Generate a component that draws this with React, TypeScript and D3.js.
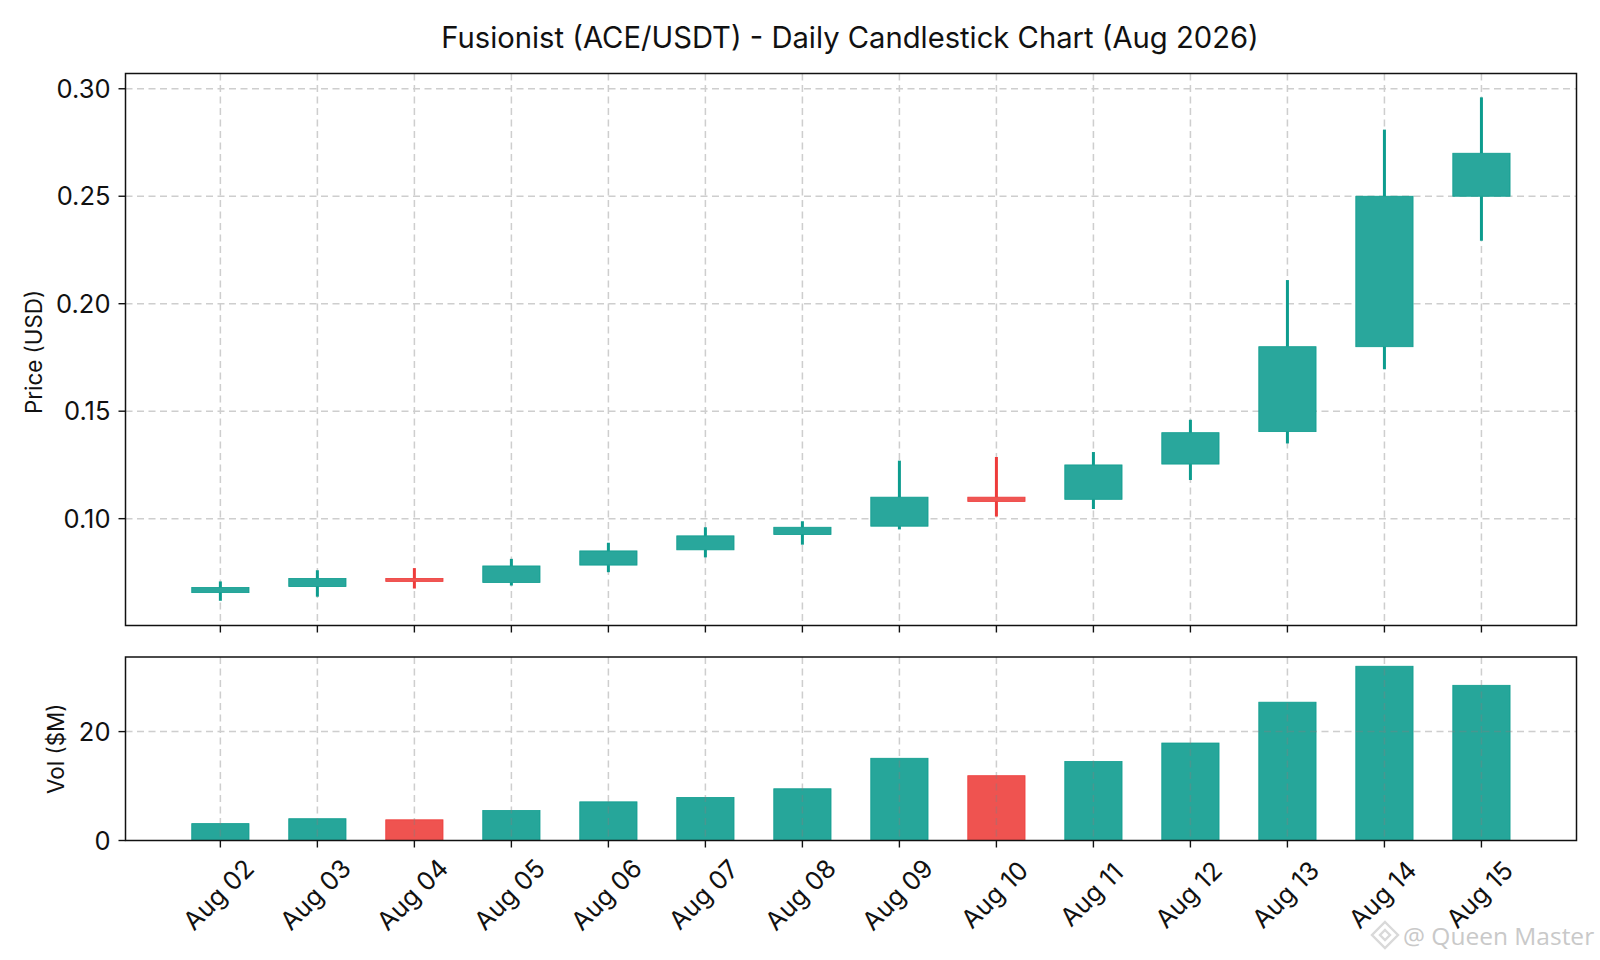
import React from "react";
import * as d3 from "d3";

const days = ["Aug 02","Aug 03","Aug 04","Aug 05","Aug 06","Aug 07","Aug 08","Aug 09","Aug 10","Aug 11","Aug 12","Aug 13","Aug 14","Aug 15"];
const opens = [0.0656,0.0684,0.0722,0.0703,0.0784,0.0855,0.0926,0.0965,0.1100,0.1090,0.1254,0.1405,0.1800,0.2500];
const closes = [0.0680,0.0722,0.0708,0.0780,0.0850,0.0920,0.0960,0.1100,0.1080,0.1250,0.1400,0.1800,0.2500,0.2700];
const highs = [0.0708,0.0760,0.0770,0.0813,0.0888,0.0960,0.0988,0.1270,0.1287,0.1310,0.1460,0.2110,0.2810,0.2960];
const lows = [0.0618,0.0637,0.0675,0.0689,0.0751,0.0820,0.0879,0.0950,0.1010,0.1045,0.1180,0.1350,0.1695,0.2293];
const volumes = [3.1,4.0,3.8,5.5,7.1,7.9,9.5,15.1,11.9,14.5,17.9,25.4,32.0,28.5];
const priceTicks = [0.10,0.15,0.20,0.25,0.30];
const volTicks = [0,20];

const UP = "#26a69a", UP_EDGE = "#0d9c8e", DOWN = "#ef5350", DOWN_EDGE = "#ee3b3a";
const FONT = "Inter, Roboto, sans-serif";
const L = 125.5, R = 1576.5;
const P = { t: 73.5, b: 625.5 }, V = { t: 657, b: 840.5 };

const x = d3.scaleLinear().domain([-0.978, 13.98]).range([L, R]);
const yP = d3.scaleLinear().domain([0.0503, 0.3071]).range([P.b, P.t]);
const yV = d3.scaleLinear().domain([0, 33.7]).range([V.b, V.t]);
const bw = x(0.59) - x(0);

function Grid({ panel, ticks, y }: any) {
  return (
    <g stroke="#808080" strokeWidth={1.5} strokeDasharray="7 4.5" opacity={0.38}>
      {days.map((_, i) => <line key={i} x1={x(i)} x2={x(i)} y1={panel.t} y2={panel.b} />)}
      {ticks.map((t: number) => <line key={t} x1={L} x2={R} y1={y(t)} y2={y(t)} />)}
    </g>
  );
}

function YAxis({ ticks, y, fmt }: any) {
  return (
    <g>
      {ticks.map((t: number) => (
        <g key={t}>
          <line x1={L - 7} x2={L} y1={y(t)} y2={y(t)} stroke="#111" strokeWidth={1.4} />
          <text x={L - 15} y={y(t)} dy="0.36em" textAnchor="end" fontSize={25.5} fill="#111">{fmt(t)}</text>
        </g>
      ))}
    </g>
  );
}

function XTicks({ y0 }: { y0: number }) {
  return <g>{days.map((_, i) => <line key={i} x1={x(i)} x2={x(i)} y1={y0} y2={y0 + 7} stroke="#111" strokeWidth={1.4} />)}</g>;
}

export default function App() {
  const f2 = d3.format(".2f");
  return (
    <svg width={1600} height={960} style={{ position: "absolute", left: 0, top: 0, background: "#fff" }} fontFamily={FONT}>
      <text x={850} y={37} dy="0.36em" textAnchor="middle" fontSize={29.2} fill="#111">Fusionist (ACE/USDT) - Daily Candlestick Chart (Aug 2026)</text>

      {/* price panel */}
      <Grid panel={P} ticks={priceTicks} y={yP} />
      {days.map((_, i) => {
        const up = closes[i] >= opens[i];
        const yOpen = yP(opens[i]), yClose = yP(closes[i]);
        const top = Math.min(yOpen, yClose), bottom = Math.max(yOpen, yClose);
        const edge = up ? UP_EDGE : DOWN_EDGE;
        return (
          <g key={i}>
            <line x1={x(i)} x2={x(i)} y1={yP(highs[i])} y2={top} stroke={edge} strokeWidth={3} />
            <line x1={x(i)} x2={x(i)} y1={bottom} y2={yP(lows[i])} stroke={edge} strokeWidth={3} />
            <rect x={x(i) - bw / 2} y={top} width={bw} height={bottom - top} fill={up ? UP : DOWN} fillOpacity={0.985} stroke={edge} strokeWidth={0.8} />
          </g>
        );
      })}
      <rect x={L} y={P.t} width={R - L} height={P.b - P.t} fill="none" stroke="#111" strokeWidth={1.5} />
      <YAxis ticks={priceTicks} y={yP} fmt={f2} />
      <XTicks y0={P.b} />
      <text transform={`translate(34,352) rotate(-90)`} textAnchor="middle" dy="0.36em" fontSize={22.4} fill="#111">Price (USD)</text>

      {/* volume panel */}
      {days.map((_, i) => (
        <rect key={i} x={x(i) - bw / 2} y={yV(volumes[i])} width={bw} height={yV(0) - yV(volumes[i])}
          fill={closes[i] >= opens[i] ? UP : DOWN} stroke={closes[i] >= opens[i] ? UP_EDGE : DOWN_EDGE} strokeWidth={0.8} />
      ))}
      <Grid panel={V} ticks={volTicks.slice(1)} y={yV} />
      <rect x={L} y={V.t} width={R - L} height={V.b - V.t} fill="none" stroke="#111" strokeWidth={1.5} />
      <YAxis ticks={volTicks} y={yV} fmt={d3.format("d")} />
      <XTicks y0={V.b} />
      <text transform={`translate(56,${(V.t + V.b) / 2}) rotate(-90)`} textAnchor="middle" dy="0.36em" fontSize={22.4} fill="#111">Vol ($M)</text>

      {days.map((d, i) => (
        <text key={d} transform={`translate(${x(i) - 2},894.5) rotate(-45)`} textAnchor="middle" dy="0.36em" fontSize={25.5} fill="#111">{d}</text>
      ))}

      {/* watermark */}
      <g fill="none" stroke="#d9d9d9" strokeWidth={2.4}>
        <path d="M1385 922 l13 13 l-13 13 l-13 -13 z" />
        <path d="M1385 930 l5 5 l-5 5 l-5 -5 z" />
      </g>
      <text x={1403} y={936} dy="0.36em" fontFamily="'Open Sans', sans-serif" fontSize={24.5} fill="#c9c9c9">@ Queen Master</text>
    </svg>
  );
}
